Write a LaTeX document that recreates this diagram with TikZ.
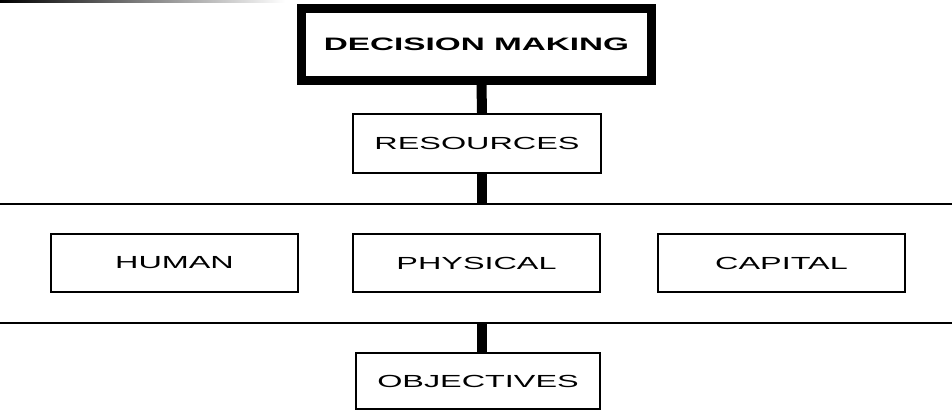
\documentclass[tikz,border=0pt]{standalone}
\usepackage{fontspec}
\newfontfamily\labfont[FakeStretch=1.85]{Liberation Sans}
\begin{document}
\begin{tikzpicture}[x=1pt,y=-1pt,
  box/.style={draw=black, line width=2pt, inner sep=0pt, fill=white,
    font=\labfont\fontsize{17.5}{20}\selectfont},
  topbox/.style={box, line width=9pt, font=\labfont\bfseries\fontsize{18}{20}\selectfont},
  conn/.style={line width=10pt, line cap=butt},
  rule/.style={line width=2pt}]
\useasboundingbox (0,0) rectangle (952,411);
\fill[white] (0,0) rectangle (952,411);
% faded scan line at top left
\shade[left color=black, right color=white] (0,0) rectangle (285,2.5);
% horizontal rules
\coordinate (l1) at (0,204);
\coordinate (r1) at (952,204);
\coordinate (l2) at (0,323);
\coordinate (r2) at (952,323);
\draw[rule] (l1) -- (r1);
\draw[rule] (l2) -- (r2);
\coordinate (j1) at (482,204);
\coordinate (j2) at (482,323);
% boxes
\node[topbox, minimum width=350pt, minimum height=72pt] (dm) at (476.5,44.5) {DECISION MAKING};
\node[box, minimum width=248pt, minimum height=59pt] (res) at (477,143.5) {RESOURCES};
\node[box, minimum width=247pt, minimum height=58pt] (hum) at (174.5,263) {HUMAN};
\node[box, minimum width=247pt, minimum height=58pt] (phy) at (476.5,263) {PHYSICAL};
\node[box, minimum width=247pt, minimum height=58pt] (cap) at (781.5,263) {CAPITAL};
\node[box, minimum width=244pt, minimum height=56pt] (obj) at (478,381) {OBJECTIVES};
% connectors
\draw[conn] ([xshift=5pt]dm.south) -- ([xshift=5pt]res.north);
\draw[conn] ([xshift=5pt]res.south) -- (j1);
\draw[conn] (j2) -- ([xshift=4pt]obj.north);
\end{tikzpicture}
\end{document}
